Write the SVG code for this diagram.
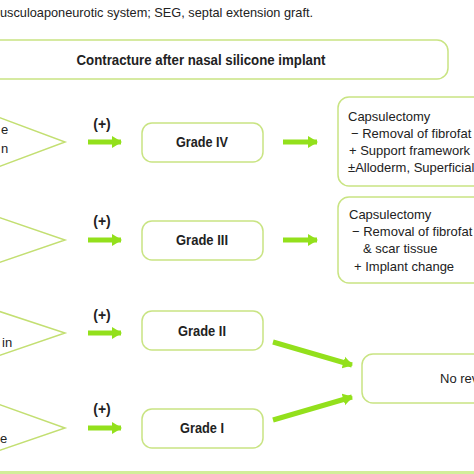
<svg xmlns="http://www.w3.org/2000/svg" width="474" height="474" viewBox="0 0 474 474">
<style>
.box{fill:#fff;stroke:#c9e483;stroke-width:1.5}
.tri{fill:none;stroke:#c3df72;stroke-width:1.5}
.t{font-family:"Liberation Sans",Arial,sans-serif;font-size:13px;fill:#222}
.b{font-family:"Liberation Sans",Arial,sans-serif;font-size:14px;font-weight:bold;fill:#222}
.c{text-anchor:middle}
.arr{stroke:#93e01c;stroke-width:5;fill:none}
</style>
<defs>
<marker id="ah" markerUnits="userSpaceOnUse" markerWidth="13" markerHeight="13" refX="9" refY="6.5" orient="auto">
<path d="M0,0.5 L10,6.5 L0,12.5 Z" fill="#93e01c"/>
</marker>
</defs>
<rect width="474" height="474" fill="#fff"/>
<text class="t" x="0" y="17" textLength="313" lengthAdjust="spacingAndGlyphs">usculoaponeurotic system; SEG, septal extension graft.</text>

<g id="title">
<rect class="box" x="-12" y="40" width="460" height="39" rx="11"/>
<text class="b c" x="201" y="65" textLength="249" lengthAdjust="spacingAndGlyphs">Contracture after nasal silicone implant</text>
</g>

<g id="cond1"><polyline class="tri" points="-2,117 65,142 -2,167"/>
<text class="t" x="1" y="134">e</text><text class="t" x="1" y="153">n</text></g>
<g id="cond2"><polyline class="tri" points="-2,217 65,240 -2,263"/></g>
<g id="cond3"><polyline class="tri" points="-2,311 65,333 -2,356"/>
<text class="t" x="2" y="347">in</text></g>
<g id="cond4"><polyline class="tri" points="-2,404 65,428 -2,451"/>
<text class="t" x="0" y="443">e</text></g>

<g id="g4"><rect class="box" x="142" y="123" width="121" height="39" rx="10"/>
<text class="b c" x="202" y="147" textLength="52" lengthAdjust="spacingAndGlyphs">Grade IV</text></g>
<g id="g3"><rect class="box" x="142" y="221" width="121" height="39" rx="10"/>
<text class="b c" x="202" y="245" textLength="52" lengthAdjust="spacingAndGlyphs">Grade III</text></g>
<g id="g2"><rect class="box" x="142" y="311" width="121" height="39" rx="10"/>
<text class="b c" x="202" y="336" textLength="48" lengthAdjust="spacingAndGlyphs">Grade II</text></g>
<g id="g1"><rect class="box" x="142" y="409" width="121" height="39" rx="10"/>
<text class="b c" x="202" y="433" textLength="44" lengthAdjust="spacingAndGlyphs">Grade I</text></g>

<g id="tx1"><rect class="box" x="338" y="97" width="150" height="89" rx="11"/>
<text class="t" x="348" y="121">Capsulectomy</text>
<text class="t" x="351" y="138">− Removal of fibrofat</text>
<text class="t" x="349" y="155">+ Support framework</text>
<text class="t" x="348" y="172">±Alloderm, Superficial</text></g>
<g id="tx2"><rect class="box" x="338" y="197" width="150" height="86" rx="11"/>
<text class="t" x="349" y="219">Capsulectomy</text>
<text class="t" x="352" y="236">− Removal of fibrofat</text>
<text class="t" x="363" y="253">&amp; scar tissue</text>
<text class="t" x="354" y="271">+ Implant change</text></g>
<g id="tx3"><rect class="box" x="362" y="354" width="130" height="49" rx="11"/>
<text class="t" x="440" y="383">No revision</text></g>

<g id="connectors">
<text class="b c" x="102" y="129">(+)</text>
<text class="b c" x="102" y="226">(+)</text>
<text class="b c" x="102" y="320">(+)</text>
<text class="b c" x="102" y="414">(+)</text>
<line class="arr" x1="88" y1="142" x2="121" y2="142" marker-end="url(#ah)"/>
<line class="arr" x1="88" y1="240" x2="121" y2="240" marker-end="url(#ah)"/>
<line class="arr" x1="88" y1="333" x2="121" y2="333" marker-end="url(#ah)"/>
<line class="arr" x1="88" y1="428" x2="121" y2="428" marker-end="url(#ah)"/>
<line class="arr" x1="283" y1="142" x2="317" y2="142" marker-end="url(#ah)"/>
<line class="arr" x1="283" y1="240" x2="317" y2="240" marker-end="url(#ah)"/>
<line class="arr" x1="273" y1="342" x2="352" y2="365" marker-end="url(#ah)"/>
<line class="arr" x1="273" y1="420" x2="352" y2="397" marker-end="url(#ah)"/>
</g>
<line x1="0" y1="472.5" x2="474" y2="472.5" stroke="#d2ee9a" stroke-width="3"/>
</svg>
